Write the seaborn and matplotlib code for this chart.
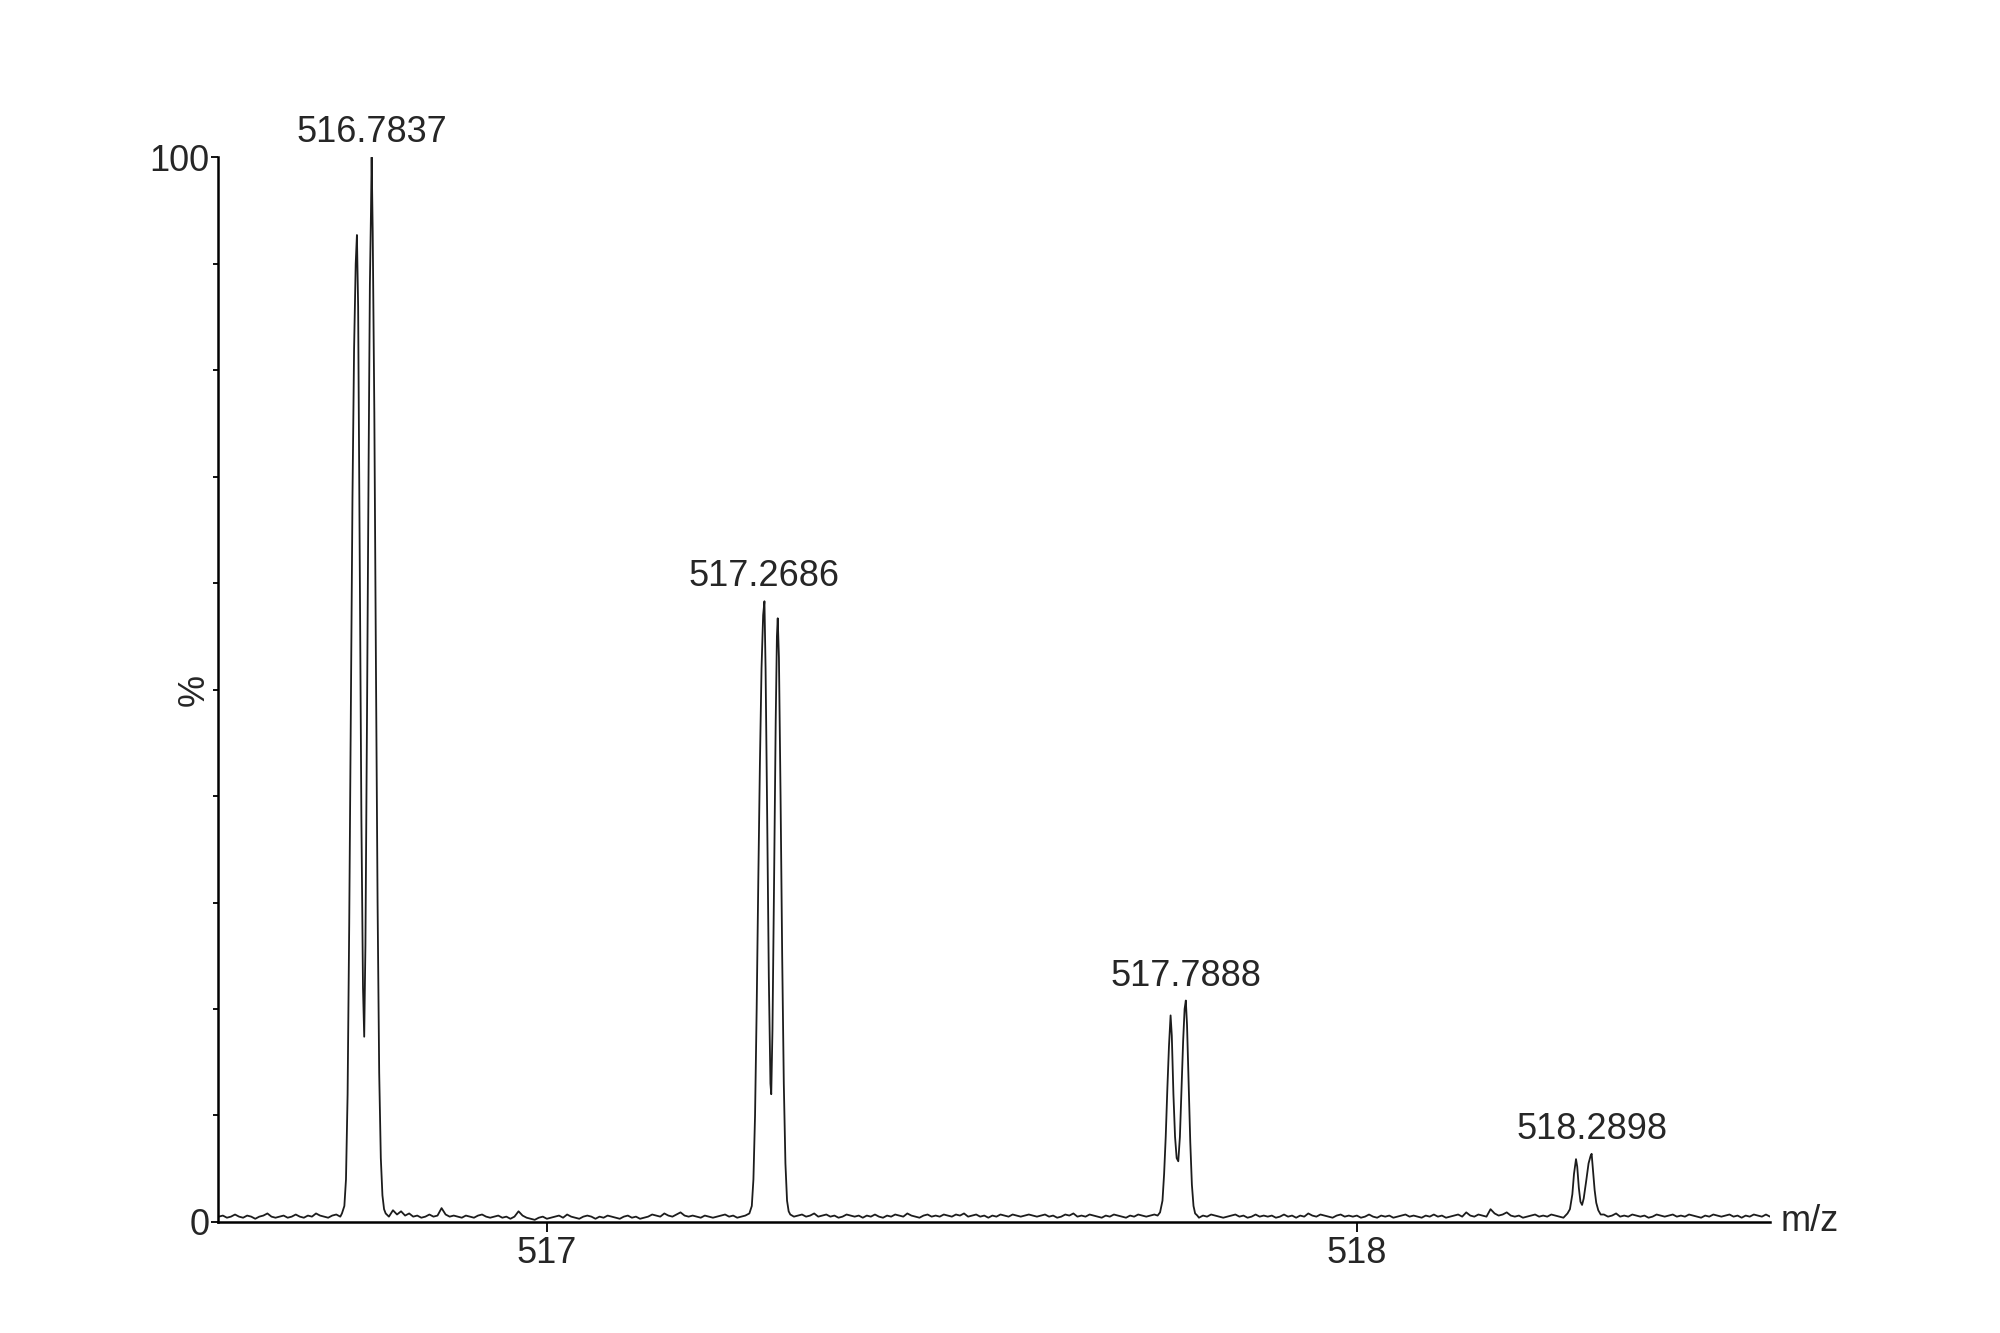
import numpy as np
import pandas as pd
import matplotlib
matplotlib.use("Agg")
import matplotlib.pyplot as plt
import matplotlib.transforms as mtransforms
import seaborn as sns

# ---------------- data ----------------
# doublet profiles (m/z, % intensity)
peak1_mz = [516.7470, 516.7500, 516.7520, 516.7540, 516.7560, 516.7580, 516.7600, 516.7620,
            516.7640, 516.7655, 516.7670, 516.7690, 516.7710, 516.7730, 516.7745, 516.7760,
            516.7780, 516.7800, 516.7815, 516.7828, 516.7837, 516.7850, 516.7870, 516.7890,
            516.7910, 516.7930, 516.7950, 516.7970, 516.7990, 516.8010]
peak1_int = [0.8, 1.5, 4, 12, 28, 48, 68, 82,
             90, 92.7, 86, 62, 38, 22, 17.4, 26,
             48, 72, 88, 94.6, 100, 93, 76, 52,
             30, 14, 6, 2.5, 1.2, 0.8]

peak2_mz = [517.2500, 517.2530, 517.2550, 517.2570, 517.2590, 517.2610, 517.2630, 517.2650,
            517.2670, 517.2686, 517.2700, 517.2720, 517.2740, 517.2760, 517.2770, 517.2785,
            517.2805, 517.2825, 517.2840, 517.2850, 517.2865, 517.2885, 517.2905, 517.2925,
            517.2945, 517.2965, 517.2985, 517.3005]
peak2_int = [0.8, 1.5, 4, 10, 20, 32, 43, 52,
             57, 58.3, 52, 38, 23, 13, 12, 18,
             32, 47, 55, 56.7, 53, 40, 25, 13,
             5.5, 2, 1, 0.7]

peak3_mz = [517.7540, 517.7570, 517.7600, 517.7620, 517.7640, 517.7660, 517.7680, 517.7700,
            517.7715, 517.7735, 517.7755, 517.7775, 517.7795, 517.7815, 517.7835, 517.7855,
            517.7873, 517.7888, 517.7903, 517.7923, 517.7943, 517.7963, 517.7983, 517.8003,
            517.8030]
peak3_int = [0.6, 0.9, 2, 4.5, 8, 12.5, 16.5, 19.4,
             17.5, 12, 8, 6, 5.7, 8, 12.5, 17,
             20, 20.8, 18.5, 13, 7.5, 3.5, 1.5, 0.8,
             0.6]

peak4_mz = [518.2600, 518.2630, 518.2660, 518.2680, 518.2705, 518.2720, 518.2740, 518.2760,
            518.2780, 518.2800, 518.2830, 518.2860, 518.2885, 518.2898, 518.2915, 518.2935,
            518.2955, 518.2980, 518.3010]
peak4_int = [0.8, 1.2, 2.6, 4.5, 5.9, 5.2, 3.2, 1.9,
             1.6, 2.2, 3.8, 5.5, 6.2, 6.4, 4.8, 3.0,
             1.8, 1.1, 0.7]

# baseline noise, sampled every 0.005 m/z starting at 516.595
noise_start = 516.595
noise_step = 0.005
noise_int = [
    0.5, 0.6, 0.4, 0.5, 0.7, 0.5, 0.4, 0.6, 0.5, 0.3, 0.5, 0.6, 0.8, 0.5, 0.4, 0.5, 0.6, 0.4, 0.5, 0.7,
    0.5, 0.4, 0.6, 0.5, 0.8, 0.6, 0.5, 0.4, 0.6, 0.7, 0.5, 0.6, 0.5, 0.4, 0.6, 0.5, 0.7, 0.5, 0.6, 0.5,
    0.7, 0.6, 0.5, 1.1, 0.7, 1.0, 0.6, 0.8, 0.5, 0.6, 0.4, 0.5, 0.7, 0.5, 0.6, 1.3, 0.7, 0.5, 0.6, 0.5,
    0.4, 0.6, 0.5, 0.4, 0.6, 0.7, 0.5, 0.4, 0.5, 0.6, 0.4, 0.5, 0.3, 0.5, 1.0, 0.6, 0.4, 0.3, 0.2, 0.4,
    0.5, 0.3, 0.4, 0.5, 0.6, 0.4, 0.7, 0.5, 0.4, 0.3, 0.5, 0.6, 0.5, 0.3, 0.5, 0.4, 0.6, 0.5, 0.4, 0.3,
    0.5, 0.6, 0.4, 0.5, 0.3, 0.4, 0.5, 0.7, 0.6, 0.5, 0.8, 0.6, 0.5, 0.7, 0.9, 0.6, 0.5, 0.6, 0.5, 0.4,
    0.6, 0.5, 0.4, 0.5, 0.6, 0.7, 0.5, 0.6, 0.4, 0.5, 0.6, 0.5, 0.7, 0.6, 0.5, 0.4, 0.6, 0.5, 0.7, 0.6,
    0.5, 0.4, 0.5, 0.6, 0.7, 0.5, 0.6, 0.8, 0.5, 0.6, 0.7, 0.5, 0.6, 0.4, 0.5, 0.7, 0.6, 0.5, 0.6, 0.4,
    0.6, 0.5, 0.7, 0.5, 0.4, 0.6, 0.5, 0.7, 0.6, 0.5, 0.8, 0.6, 0.5, 0.4, 0.6, 0.7, 0.5, 0.6, 0.5, 0.7,
    0.6, 0.5, 0.7, 0.6, 0.8, 0.5, 0.6, 0.7, 0.5, 0.6, 0.4, 0.6, 0.5, 0.7, 0.6, 0.5, 0.7, 0.6, 0.5, 0.6,
    0.7, 0.6, 0.5, 0.6, 0.7, 0.5, 0.6, 0.4, 0.5, 0.7, 0.6, 0.8, 0.5, 0.6, 0.5, 0.7, 0.6, 0.5, 0.4, 0.6,
    0.5, 0.7, 0.6, 0.5, 0.4, 0.6, 0.5, 0.7, 0.6, 0.5, 0.6, 0.7, 0.5, 0.6, 0.8, 0.6, 0.5, 0.7, 0.6, 0.5,
    0.6, 0.5, 0.4, 0.6, 0.5, 0.7, 0.6, 0.5, 0.4, 0.5, 0.6, 0.7, 0.5, 0.6, 0.4, 0.5, 0.7, 0.5, 0.6, 0.5,
    0.6, 0.4, 0.5, 0.7, 0.5, 0.6, 0.4, 0.6, 0.5, 0.8, 0.6, 0.5, 0.7, 0.6, 0.5, 0.4, 0.6, 0.7, 0.5, 0.6,
    0.5, 0.6, 0.4, 0.5, 0.7, 0.5, 0.4, 0.6, 0.5, 0.6, 0.4, 0.5, 0.6, 0.7, 0.5, 0.6, 0.5, 0.4, 0.6, 0.5,
    0.7, 0.5, 0.6, 0.4, 0.5, 0.6, 0.7, 0.5, 0.9, 0.6, 0.5, 0.7, 0.6, 0.5, 1.2, 0.8, 0.6, 0.7, 0.9, 0.6,
    0.5, 0.6, 0.4, 0.5, 0.6, 0.7, 0.5, 0.6, 0.5, 0.7, 0.6, 0.5, 0.4, 0.6, 0.5, 0.7, 0.6, 0.5, 0.6, 0.4,
    0.5, 0.6, 0.7, 0.5, 0.6, 0.8, 0.5, 0.6, 0.5, 0.7, 0.6, 0.5, 0.6, 0.4, 0.5, 0.7, 0.6, 0.5, 0.6, 0.7,
    0.5, 0.6, 0.5, 0.7, 0.6, 0.5, 0.4, 0.6, 0.5, 0.7, 0.6, 0.5, 0.6, 0.7, 0.5, 0.6, 0.4, 0.6, 0.5, 0.7,
    0.6, 0.5, 0.7, 0.5, 0.6, 0.4, 0.5, 0.8, 1.0, 0.6,
]

label_mz = [516.7837, 517.2686, 517.7888, 518.2898]
label_int = [100, 58.3, 20.8, 6.4]
label_text = ["516.7837", "517.2686", "517.7888", "518.2898"]

x_ticks = [517, 518]
y_ticks = [0, 100]

# ------------- assemble trace -------------
noise_mz = noise_start + noise_step * np.arange(len(noise_int))
peak_mz_all = [peak1_mz, peak2_mz, peak3_mz, peak4_mz]
peak_int_all = [peak1_int, peak2_int, peak3_int, peak4_int]
keep = np.ones(len(noise_mz), dtype=bool)
for pm in peak_mz_all:
    keep &= ~((noise_mz >= pm[0] - 0.001) & (noise_mz <= pm[-1] + 0.001))
mz = np.concatenate([noise_mz[keep]] + [np.array(p) for p in peak_mz_all])
inten = np.concatenate([np.array(noise_int)[keep]] + [np.array(p, float) for p in peak_int_all])
df = pd.DataFrame({"mz": mz, "int": inten}).sort_values("mz")

# ------------- plot -------------
sns.set_theme(style="white")
plt.rcParams["font.family"] = ["Liberation Sans", "DejaVu Sans"]

fig = plt.figure(figsize=(20, 13.33), dpi=100)
ax = fig.add_axes([0.109, 0.0833, 0.776, 0.7987])

sns.lineplot(data=df, x="mz", y="int", estimator=None, sort=False,
             color="#1c1c1c", linewidth=1.3, ax=ax)

ax.set_xlim(516.594, 518.51)
ax.set_ylim(0, 100)

for s in ["top", "right"]:
    ax.spines[s].set_visible(False)
for s in ["left", "bottom"]:
    ax.spines[s].set_color("black")
    ax.spines[s].set_linewidth(1.8)

ax.set_xticks(x_ticks)
ax.set_xticklabels([str(t) for t in x_ticks])
ax.set_yticks(y_ticks)
ax.set_yticklabels([str(t) for t in y_ticks])
ax.set_yticks(np.arange(10, 100, 10), minor=True)
ax.tick_params(axis="x", which="major", direction="out", length=7, width=1.3,
               color="black", labelsize=26, pad=3, bottom=True)
ax.tick_params(axis="y", which="major", direction="out", length=5, width=1.3,
               color="black", labelsize=26, pad=1, left=True)
ax.tick_params(axis="y", which="minor", direction="out", length=3.5, width=1.3,
               color="black", left=True)
ax.set_xlabel("")
ax.set_ylabel("")
ax.grid(False)

trans = mtransforms.blended_transform_factory(ax.transAxes, ax.transData)
ax.text(1.007, 0, "m/z", transform=trans, ha="left", va="center", fontsize=26)
ax.text(-0.015, 50, "%", transform=trans, ha="center", va="center",
        rotation=90, fontsize=26)

for m, h, t in zip(label_mz, label_int, label_text):
    ax.annotate(t, xy=(m, h), xytext=(0, 5), textcoords="offset points",
                ha="center", va="bottom", fontsize=26, annotation_clip=False)

fig.savefig("out.png", dpi=100, facecolor="white")
